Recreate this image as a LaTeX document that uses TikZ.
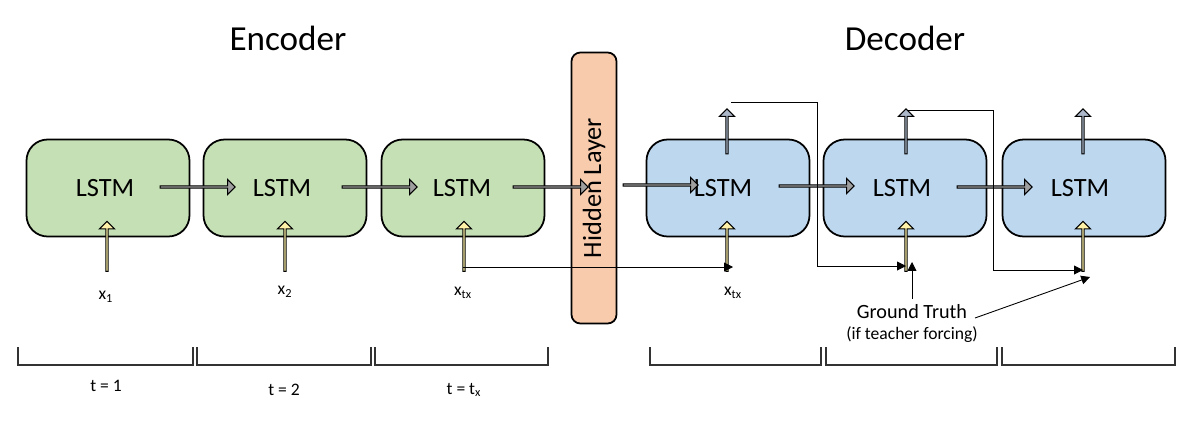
\documentclass[tikz,border=0pt]{standalone}
\usepackage{fontspec}
\setmainfont{Carlito}
\usetikzlibrary{shapes.arrows,arrows.meta}
\definecolor{encg}{HTML}{C5E0B4}
\definecolor{decb}{HTML}{BDD7EE}
\definecolor{hid}{HTML}{F8CBAD}
\definecolor{yel}{HTML}{FFF2A8}
\definecolor{gblue}{HTML}{ADB9CA}
\begin{document}
\begin{tikzpicture}[x=0.02cm,y=-0.02cm,
 box/.style={draw=black,line width=1pt,rounded corners=12pt,minimum width=3.26cm,minimum height=1.94cm,inner sep=0pt},
 enc/.style={box,fill=encg},
 dec/.style={box,fill=decb},
 lbl/.style={font=\fontsize{15}{15}\selectfont},
 barr/.style={single arrow,draw=black,line width=0.6pt,inner sep=0pt,minimum width=0.3cm,single arrow head extend=0.06cm,minimum height=1.5cm},
 harr/.style={barr,fill=gray!75},
 yarr/.style={barr,fill=yel,rotate=90,minimum height=1.0cm},
 garr/.style={barr,fill=gblue,rotate=90,minimum height=0.9cm},
 thin/.style={draw=black,line width=0.5pt,-{Triangle[length=5pt,width=5pt]}},
 brk/.style={draw=black!80,line width=1.5pt},
 small/.style={font=\fontsize{10}{10}\selectfont}]
\useasboundingbox (0,0) rectangle (1200,420);
\node[font=\fontsize{20}{20}\selectfont] (te) at (288,38) {Encoder};
\node[font=\fontsize{20}{20}\selectfont] (td) at (905,38) {Decoder};
\node[enc] (e1) at (108,188) {};
\node[enc] (e2) at (285,188) {};
\node[enc] (e3) at (463,188) {};
\node[draw=black,line width=1pt,fill=hid,rounded corners=5pt,minimum width=0.9cm,minimum height=5.42cm] (h) at (594,188) {};
\node[rotate=90,lbl] (ht) at (594,188) {Hidden Layer};
\node[dec] (d1) at (728,188) {};
\node[dec] (d2) at (905,188) {};
\node[dec] (d3) at (1084,188) {};
\foreach \n/\x in {e1/105,e2/282,e3/462,d1/723,d2/902,d3/1080}{\node[lbl] (l\n) at (\x,188) {LSTM};}
% horizontal block arrows
\node[harr] (a1) at (197,187) {};
\node[harr] (a2) at (379,187) {};
\node[harr] (a3) at (550,187) {};
\node[harr] (a4) at (660,185) {};
\node[harr] (a5) at (816,186) {};
\node[harr] (a6) at (994,187) {};
% yellow input arrows
\foreach \n/\x in {1/107,2/285,3/464,4/727,5/906,6/1083}{\node[yarr] (y\n) at (\x,247) {};}
\foreach \n/\x in {1/727,2/906,3/1083}{\node[garr] (g\n) at (\x,132) {};}
% input labels
\node[small] (x1) at (106,297) {x\textsubscript{1}};
\node[small] (x2) at (285,292) {x\textsubscript{2}};
\node[small] (x3) at (463,293) {x\textsubscript{tx}};
\node[small] (x4) at (733,293) {x\textsubscript{tx}};
% thin connectors
\coordinate (c0) at (463,267); \coordinate (c1) at (733,267);
\draw[thin] (c0) -- (c1);
\coordinate (p0) at (731,102); \coordinate (p1) at (906,266);
\draw[thin] (p0) -- (817,102) -- (817,266) -- (p1);
\coordinate (q0) at (908,110); \coordinate (q1) at (1083,270);
\draw[thin] (q0) -- (993,110) -- (993,270) -- (q1);
\node[font=\fontsize{11.5}{12}\selectfont] (gt) at (912,312) {Ground Truth};
\node[small] (tf) at (912,335) {(if teacher forcing)};
\coordinate (gt0) at (912,262);
\draw[thin] (gt.north) -- (gt0);
\coordinate (r0) at (975,318); \coordinate (r1) at (1090,277);
\draw[thin] (r0) -- (r1);
% brackets
\foreach \a/\b in {18/193,197/371,375/548,650/821,826/997,1002/1175}{\draw[brk] (\a,347) -- (\a,365) -- (\b,365) -- (\b,347);}
\node[small] (t1) at (106,386) {t = 1};
\node[small] (t2) at (284,390) {t = 2};
\node[small] (t3) at (464,390) {t = t\textsubscript{x}};
\end{tikzpicture}
\end{document}
